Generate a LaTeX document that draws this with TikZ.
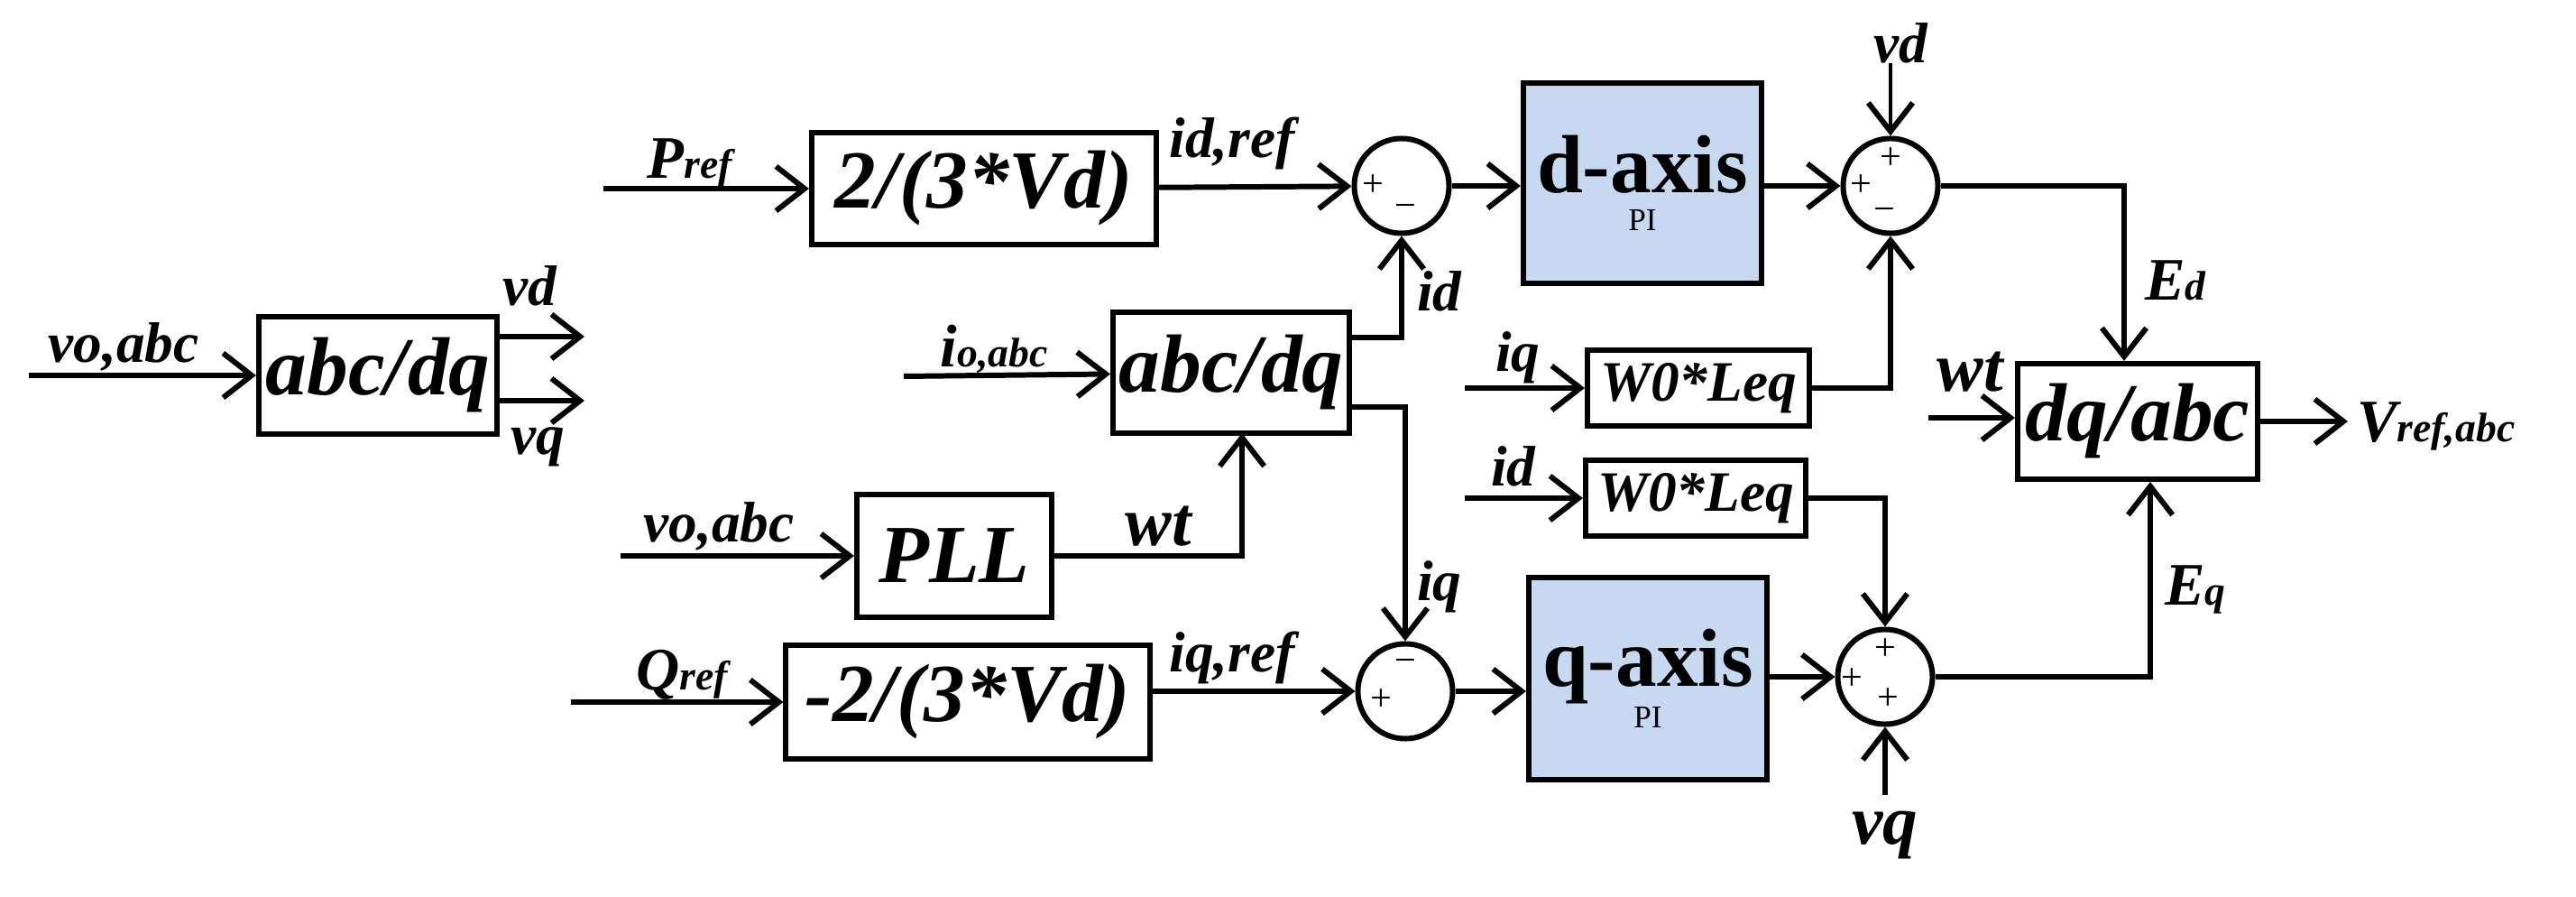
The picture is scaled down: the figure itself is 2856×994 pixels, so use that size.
\documentclass[tikz,border=0pt]{standalone}
\usepackage{fontspec}
\setmainfont{Liberation Serif}
\usetikzlibrary{arrows.meta,calc}
\definecolor{piblue}{HTML}{C6D9F0}
\newcommand{\lab}[2]{{\fontsize{#1}{#1}\selectfont\bfseries\itshape #2}}
\newcommand{\subl}[2]{\lab{19}{#1}\lab{13}{#2}}

\begin{document}
\begin{tikzpicture}[x=0.01cm, y=-0.01cm, line width=1.7pt,
	every node/.style={inner sep=0pt},
	blk/.style={draw, line width=1.7pt, minimum width=#1},
	sum/.style={draw, circle, line width=1.7pt, minimum size=1.05cm},
	sig/.style={font=\fontsize{12}{12}\selectfont},
	arr/.style={-{Straight Barb[length=9pt, width=14pt, line width=1.7pt]}}]
	\useasboundingbox (0,0) rectangle (2856,994);
	% Blocks
	\node (ABCleft)	[blk=2.64cm, minimum height=1.3cm] at (419,416)	{\lab{26}{abc/dq}};
	\node (GainP)	[blk=3.82cm, minimum height=1.24cm] at (1091,209)	{\lab{26}{2/(3*Vd)}};
	\node (ABCmid)	[blk=2.62cm, minimum height=1.34cm] at (1365,413)	{\lab{26}{abc/dq}};
	\node (PLL)		[blk=2.16cm, minimum height=1.35cm] at (1058,616)	{\lab{26}{PLL}};
	\node (GainQ)	[blk=4.03cm, minimum height=1.26cm] at (1073,778)	{\lab{26}{-2/(3*Vd)}};
	\node (PId)		[blk=2.64cm, minimum height=2.22cm, fill=piblue, align=center] at (1821,203) {\fontsize{26}{34}\selectfont\bfseries d-axis\\PI};
	\node (PIq)		[blk=2.64cm, minimum height=2.24cm, fill=piblue, align=center] at (1827,752) {\fontsize{26}{34}\selectfont\bfseries q-axis\\PI};
	\node (Wd)		[blk=2.46cm, minimum height=0.84cm] at (1883,430)	{\lab{18}{W0*Leq}};
	\node (Wq)		[blk=2.44cm, minimum height=0.84cm] at (1880,552)	{\lab{18}{W0*Leq}};
	\node (DQABC)	[blk=2.66cm, minimum height=1.28cm] at (2370,467)	{\lab{26}{dq/abc}};
	% Summing junctions
	\node (S1) [sum] at (1554,206) {};
	\node (S2) [sum] at (2096,206) {};
	\node (S3) [sum] at (1558,766) {};
	\node (S4) [sum] at (2090,750) {};
	\node[sig] at ($(S1)+(-32,0)$) {+};	\node[sig] at ($(S1)+(4,28)$) {\textminus};
	\node[sig] at ($(S2)+(0,-30)$) {+};	\node[sig] at ($(S2)+(-33,0)$) {+};	\node[sig] at ($(S2)+(-7,32)$) {\textminus};
	\node[sig] at ($(S3)+(0,-28)$) {\textminus};	\node[sig] at ($(S3)+(-27,10)$) {+};
	\node[sig] at ($(S4)+(0,-30)$) {+};	\node[sig] at ($(S4)+(-37,3)$) {+};	\node[sig] at ($(S4)+(3,25)$) {+};
	% Free ends
	\coordinate (inV) at (32,416);	\coordinate (outVd) at (648,373);	\coordinate (outVq) at (648,444);
	\coordinate (inP) at (669,209);	\coordinate (inI) at (1002,417);	\coordinate (inPLL) at (688,616);
	\coordinate (inQ) at (633,778);	\coordinate (inWd) at (1624,430);	\coordinate (inWq) at (1624,552);
	\coordinate (inVd) at (2096,70);	\coordinate (inVq) at (2090,881);	\coordinate (inWt) at (2138,463);
	\coordinate (outV) at (2603,467);
	\coordinate (tapD) at (1496,374);	\coordinate (tapQ) at (1496,451);
	\coordinate (wtUp) at (1377,480);	\coordinate (edX) at (2355,0);	\coordinate (eqX) at (2384,0);
	% Connectors
	\draw[arr] (inV) -- (ABCleft);
	\draw[arr] (ABCleft.east |- outVd) -- (outVd);
	\draw[arr] (ABCleft.east |- outVq) -- (outVq);
	\draw[arr] (inP) -- (GainP);
	\draw[arr] (GainP) -- (S1);
	\draw[arr] (S1) -- (S1 -| PId.west);
	\draw[arr] (PId.east |- S2) -- (S2);
	\draw[arr] (inI) -- (ABCmid);
	\draw[arr] (tapD) -| (S1);
	\draw[arr] (tapQ) -| (S3);
	\draw[arr] (inPLL) -- (PLL);
	\draw[arr] (PLL) -| (wtUp);
	\draw[arr] (inQ) -- (inQ -| GainQ.west);
	\draw[arr] (GainQ.east |- S3) -- (S3);
	\draw[arr] (S3) -- (S3 -| PIq.west);
	\draw[arr] (PIq.east |- S4) -- (S4);
	\draw[arr] (inWd) -- (Wd);
	\draw[arr] (inWq) -- (Wq);
	\draw[arr] (Wd) -| (S2);
	\draw[arr] (Wq) -| (S4);
	\draw[arr, line width=1pt] (inVd) -- (S2);
	\draw[arr] (inVq) -- (S4);
	\draw[arr] (S2) -| (DQABC.north -| edX);
	\draw[arr] (S4) -| (DQABC.south -| eqX);
	\draw[arr] (inWt) -- (inWt -| DQABC.west);
	\draw[arr] (DQABC) -- (outV);
	% Labels
	\node at (137,384) {\lab{18}{vo,abc}};
	\node at (587,317) {\lab{18}{vd}};
	\node at (596,495) {\lab{18}{vq}};
	\node at (765,180) {\subl{P}{ref}};
	\node at (1366,159) {\lab{18}{id,ref}};
	\node at (1102,387) {\subl{i}{o,abc}};
	\node at (797,583) {\lab{18}{vo,abc}};
	\node at (1284,583) {\lab{22}{wt}};
	\node at (756,748) {\subl{Q}{ref}};
	\node at (1366,729) {\lab{18}{iq,ref}};
	\node at (1596,323) {\lab{18}{id}};
	\node at (1596,650) {\lab{18}{iq}};
	\node at (1683,396) {\lab{18}{iq}};
	\node at (1678,517) {\lab{18}{id}};
	\node at (2107,48) {\lab{18}{vd}};
	\node at (2090,926) {\lab{22}{vq}};
	\node at (2412,311) {\subl{E}{d}};
	\node at (2434,653) {\subl{E}{q}};
	\node at (2184,412) {\lab{22}{wt}};
	\node[anchor=west] at (2610,472) {\subl{V}{ref,abc}};
\end{tikzpicture}
\end{document}
